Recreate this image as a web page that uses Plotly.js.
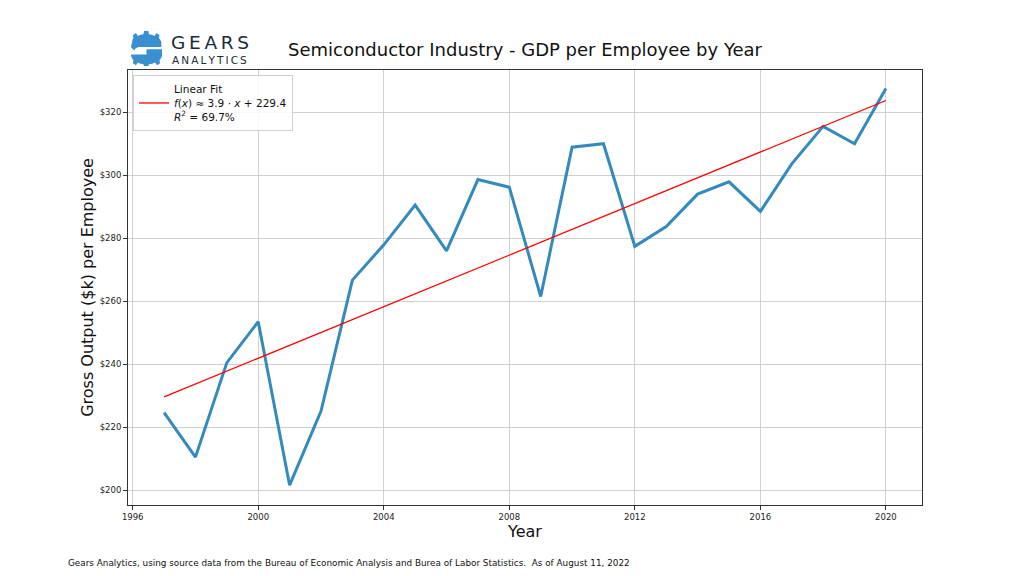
<!DOCTYPE html>
<html>
<head>
<meta charset="utf-8">
<script src="https://cdn.plot.ly/plotly-3.0.1.min.js"></script>
<style>html,body{margin:0;padding:0;background:#fff;}#chart{width:1024px;height:576px;}</style>
</head>
<body>
<div id="chart"></div>
<script>
// ---- Data ----
const years = [1997,1998,1999,2000,2001,2002,2003,2004,2005,2006,2007,2008,
               2009,2010,2011,2012,2013,2014,2015,2016,2017,2018,2019,2020];
const grossOutput = [224.6,210.5,240.5,253.5,201.6,225.1,266.7,277.9,290.5,276.0,298.6,296.2,
                     261.5,308.9,310.0,277.4,283.7,294.0,297.9,288.5,303.6,315.5,310.0,327.5];
const xTickVals = [1996,2000,2004,2008,2012,2016,2020];
const yTickVals = [200,220,240,260,280,300,320];
const fitLabel = "Linear Fit<br><i>f</i>(<i>x</i>) \u2248 3.9 \u00b7 <i>x</i> + 229.4<br><i>R</i><sup>2</sup> = 69.7%";
const titleText = "Semiconductor Industry - GDP per Employee by Year";
const footerText = "Gears Analytics, using source data from the Bureau of Economic Analysis and Burea of Labor Statistics.  As of August 11, 2022";

// ---- Least-squares fit computed from the data ----
const n = years.length;
const mx = years.reduce((a,b)=>a+b,0)/n;
const my = grossOutput.reduce((a,b)=>a+b,0)/n;
let sxy=0, sxx=0;
for (let i=0;i<n;i++){ sxy += (years[i]-mx)*(grossOutput[i]-my); sxx += (years[i]-mx)**2; }
const slope = sxy/sxx, icpt = my - slope*mx;
const fitX = [years[0], years[n-1]];
const fitY = fitX.map(x => icpt + slope*x);

// ---- Layout helpers (pixel -> paper) ----
const M = {l:128, r:102, t:70, b:71};
const W = 1024, H = 576, PW = W-M.l-M.r, PH = H-M.t-M.b;
const px = x => (x - M.l)/PW;
const py = y => (H - M.b - y)/PH;

const gearSvg = "<svg xmlns='http://www.w3.org/2000/svg' viewBox='0 0 100 100'><g fill='#3a8fd0'>" +
  "<path d='M4 30 Q4 24 8 20 L6 12 L16 6 L22 14 Q30 10 40 9 L42 0 L56 0 L58 9 Q68 10 76 14 L82 6 L92 12 L90 20 Q96 26 98 32 L98 46 L24 46 Q14 48 10 56 L0 46 Z'/>" +
  "<path d='M50 52 L100 52 L100 70 Q98 78 92 84 L94 92 L84 98 L78 90 Q68 94 58 95 L56 100 L42 100 L40 95 Q30 94 22 90 L16 98 L6 92 L8 84 Q2 78 0 70 L0 67 L50 67 Z'/>" +
  "</g></svg>";

const traces = [
  {x: years, y: grossOutput, type:'scatter', mode:'lines',
   line:{color:'#348ABD', width:3}, showlegend:false, hoverinfo:'x+y'},
  {x: fitX, y: fitY, type:'scatter', mode:'lines',
   line:{color:'#ff0000', width:1.3}, name: fitLabel, showlegend:true}
];

const axisCommon = {
  showline:true, mirror:true, linecolor:'#333333', linewidth:1,
  showgrid:true, gridcolor:'#c4c4c4', gridwidth:0.8,
  ticks:'outside', ticklen:4, tickcolor:'#333333', tickwidth:1,
  zeroline:false, tickfont:{family:'DejaVu Sans', size:8.5, color:'#222'}
};

const layout = {
  width:W, height:H, margin:M,
  paper_bgcolor:'#ffffff', plot_bgcolor:'#ffffff',
  title:{text:titleText, font:{family:'DejaVu Sans', size:18, color:'#111'},
         x:0.5, xref:'paper', y:1-50/H, yref:'container', yanchor:'middle'},
  xaxis: Object.assign({}, axisCommon, {
    range:[1995.85, 2021.15], tickvals:xTickVals, ticktext:xTickVals.map(String),
    title:{text:'Year', font:{family:'DejaVu Sans', size:16, color:'#111'}, standoff:2}
  }),
  yaxis: Object.assign({}, axisCommon, {
    range:[195.3, 333.4], tickvals:yTickVals, ticktext:yTickVals.map(v=>'$'+v),
    title:{text:'Gross Output ($k) per Employee', font:{family:'DejaVu Sans', size:16, color:'#111'}, standoff:2}
  }),
  legend:{x:px(133), y:py(75), xanchor:'left', yanchor:'top',
          bgcolor:'rgba(255,255,255,0.85)', bordercolor:'#d0d0d0', borderwidth:1,
          font:{family:'DejaVu Sans', size:10.5, color:'#111'}, itemwidth:30, valign:'middle'},
  images:[{source:'data:image/svg+xml;utf8,'+encodeURIComponent(gearSvg),
           xref:'paper', yref:'paper', x:px(131), y:py(31), sizex:31/PW, sizey:35/PH,
           xanchor:'left', yanchor:'top', sizing:'stretch', layer:'above'}],
  annotations:[
    {text:'G\u2009E\u2009A\u2009R\u2009S', xref:'paper', yref:'paper', x:px(170), y:py(42.3),
     xanchor:'left', yanchor:'middle', showarrow:false, borderpad:0,
     font:{family:'DejaVu Sans', size:18.5, color:'#1b2a3a'}},
    {text:'A\u2009N\u2009A\u2009L\u2009Y\u2009T\u2009I\u2009C\u2009S', xref:'paper', yref:'paper', x:px(171), y:py(60),
     xanchor:'left', yanchor:'middle', showarrow:false, borderpad:0,
     font:{family:'DejaVu Sans', size:10.5, color:'#1b2a3a'}},
    {text:footerText, xref:'paper', yref:'paper', x:px(66), y:py(563),
     xanchor:'left', yanchor:'middle', showarrow:false,
     font:{family:'DejaVu Sans', size:8.85, color:'#111'}}
  ]
};

Plotly.newPlot('chart', traces, layout, {displayModeBar:false, staticPlot:true});
</script>
</body>
</html>
